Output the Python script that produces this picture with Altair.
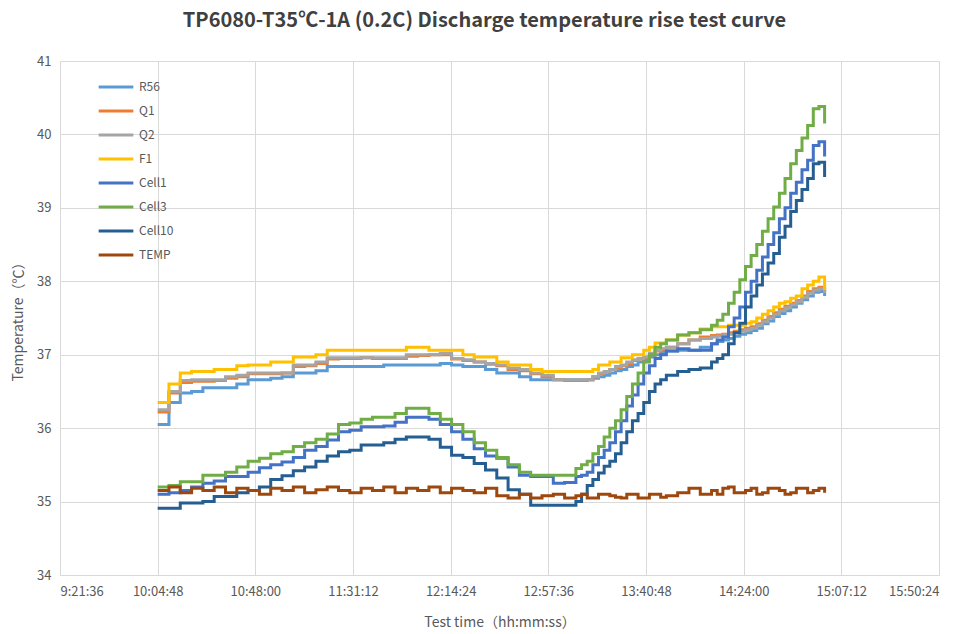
import altair as alt
import pandas as pd

# ---------------- data ----------------
times = [
    "10:04:48", "10:09:48", "10:14:48", "10:19:48", "10:24:48", "10:29:48", "10:34:48", "10:39:48", "10:44:48", "10:49:48",
    "10:54:48", "10:59:48", "11:04:48", "11:09:48", "11:14:48", "11:19:48", "11:24:48", "11:29:48", "11:34:48", "11:39:48",
    "11:44:48", "11:49:48", "11:54:48", "11:59:48", "12:04:48", "12:09:48", "12:14:48", "12:19:48", "12:24:48", "12:29:48",
    "12:34:48", "12:39:48", "12:44:48", "12:49:48", "12:54:48", "12:59:48", "13:04:48", "13:09:48", "13:14:48", "13:19:48",
    "13:24:48", "13:29:48", "13:34:48", "13:39:48", "13:44:48", "13:49:48", "13:54:48", "13:59:48", "14:04:48", "14:09:48",
    "14:14:48", "14:19:48", "14:24:48", "14:29:48", "14:34:48", "14:39:48", "14:44:48", "14:49:48", "14:54:48", "14:59:48",
]

r56 = [36.05, 36.35, 36.48, 36.5, 36.55, 36.55, 36.55, 36.6, 36.66, 36.66,
       36.68, 36.7, 36.75, 36.75, 36.78, 36.84, 36.84, 36.84, 36.84, 36.84,
       36.86, 36.86, 36.86, 36.86, 36.86, 36.88, 36.86, 36.84, 36.84, 36.8,
       36.75, 36.75, 36.7, 36.66, 36.66, 36.66, 36.66, 36.66, 36.66, 36.7,
       36.75, 36.8, 36.86, 36.93, 37.0, 37.05, 37.06, 37.06, 37.1, 37.15,
       37.2, 37.25, 37.3, 37.36, 37.46, 37.56, 37.65, 37.75, 37.85, 37.8]

q1 = [36.22, 36.48, 36.62, 36.64, 36.64, 36.65, 36.68, 36.7, 36.74, 36.74,
      36.74, 36.75, 36.84, 36.85, 36.88, 36.94, 36.95, 36.95, 36.96, 36.95,
      36.95, 36.95, 36.98, 36.99, 37.0, 37.0, 36.94, 36.92, 36.9, 36.87,
      36.85, 36.8, 36.78, 36.74, 36.7, 36.66, 36.65, 36.65, 36.66, 36.74,
      36.8, 36.85, 36.92, 36.96, 37.05, 37.1, 37.15, 37.2, 37.24, 37.26,
      37.28, 37.32, 37.36, 37.42, 37.52, 37.62, 37.7, 37.8, 37.9, 37.86]

q2 = [36.25, 36.5, 36.65, 36.66, 36.66, 36.66, 36.7, 36.72, 36.75, 36.75,
      36.75, 36.75, 36.86, 36.86, 36.9, 36.96, 36.96, 36.96, 36.96, 36.96,
      36.96, 36.96, 37.0, 37.0, 37.0, 37.02, 36.95, 36.93, 36.9, 36.88,
      36.86, 36.82, 36.8, 36.75, 36.72, 36.66, 36.66, 36.66, 36.66, 36.75,
      36.8, 36.86, 36.93, 36.97, 37.06, 37.1, 37.15, 37.2, 37.22, 37.24,
      37.27, 37.3, 37.34, 37.4, 37.5, 37.6, 37.68, 37.78, 37.88, 37.84]

f1 = [36.35, 36.6, 36.75, 36.77, 36.77, 36.8, 36.8, 36.85, 36.86, 36.86,
      36.9, 36.9, 36.97, 36.97, 37.0, 37.06, 37.06, 37.06, 37.06, 37.06,
      37.06, 37.06, 37.1, 37.1, 37.06, 37.06, 37.06, 37.0, 36.97, 36.97,
      36.9, 36.86, 36.86, 36.8, 36.77, 36.77, 36.77, 36.77, 36.77, 36.86,
      36.9, 36.96, 37.0, 37.06, 37.16, 37.2, 37.27, 37.3, 37.35, 37.38,
      37.38, 37.4, 37.43, 37.5, 37.6, 37.7, 37.77, 37.9, 38.0, 37.88]

cell1 = [35.1, 35.12, 35.15, 35.2, 35.25, 35.28, 35.34, 35.34, 35.4, 35.46,
         35.5, 35.54, 35.6, 35.7, 35.75, 35.84, 35.95, 35.97, 36.02, 36.02,
         36.03, 36.08, 36.15, 36.15, 36.12, 36.05, 35.95, 35.85, 35.72, 35.62,
         35.59, 35.47, 35.36, 35.34, 35.34, 35.25, 35.26, 35.34, 35.4, 35.6,
         35.8, 36.1, 36.45, 36.75, 36.95, 37.05, 37.08, 37.06, 37.06, 37.15,
         37.24, 37.5, 37.85, 38.15, 38.5, 38.85, 39.2, 39.52, 39.85, 39.7]

cell3 = [35.2, 35.22, 35.27, 35.27, 35.36, 35.36, 35.4, 35.47, 35.55, 35.59,
         35.65, 35.68, 35.75, 35.8, 35.85, 35.92, 36.05, 36.07, 36.12, 36.15,
         36.15, 36.2, 36.27, 36.27, 36.2, 36.12, 36.05, 35.95, 35.8, 35.7,
         35.6, 35.5, 35.4, 35.36, 35.36, 35.36, 35.36, 35.45, 35.55, 35.75,
         36.0, 36.25, 36.6, 36.9, 37.1, 37.2, 37.27, 37.3, 37.34, 37.4,
         37.55, 37.85, 38.2, 38.5, 38.85, 39.2, 39.6, 39.95, 40.35, 40.15]

cell10 = [34.91, 34.91, 34.98, 34.98, 35.0, 35.07, 35.07, 35.12, 35.15, 35.2,
          35.3, 35.35, 35.42, 35.47, 35.55, 35.62, 35.68, 35.7, 35.77, 35.77,
          35.8, 35.85, 35.88, 35.88, 35.85, 35.74, 35.63, 35.6, 35.52, 35.43,
          35.32, 35.16, 35.1, 34.95, 34.95, 34.95, 34.95, 35.0, 35.22, 35.39,
          35.55, 35.8, 36.1, 36.35, 36.6, 36.72, 36.77, 36.8, 36.82, 36.9,
          37.0, 37.3, 37.65, 37.95, 38.25, 38.6, 38.95, 39.25, 39.6, 39.42]

temp = [35.15, 35.2, 35.12, 35.18, 35.15, 35.2, 35.12, 35.18, 35.15, 35.1,
        35.18, 35.15, 35.2, 35.12, 35.16, 35.2, 35.15, 35.12, 35.18, 35.15,
        35.2, 35.12, 35.18, 35.15, 35.2, 35.12, 35.18, 35.15, 35.12, 35.18,
        35.08, 35.05, 35.1, 35.05, 35.08, 35.1, 35.05, 35.08, 35.05, 35.1,
        35.08, 35.05, 35.1, 35.05, 35.1, 35.08, 35.12, 35.18, 35.1, 35.15,
        35.18, 35.12, 35.15, 35.1, 35.18, 35.15, 35.12, 35.18, 35.15, 35.12]

# extra readings in the two fast-rising stretches
times_extra = ["13:12:18", "13:17:18", "13:22:18", "13:27:18", "13:32:18", "13:37:18", "13:42:18", "13:47:18",
               "14:12:18", "14:17:18", "14:22:18", "14:27:18", "14:32:18", "14:37:18", "14:42:18", "14:47:18",
               "14:52:18", "14:57:18"]
r56_extra = [36.66, 36.68, 36.72, 36.78, 36.84, 36.9, 36.97, 37.03,
             37.18, 37.22, 37.28, 37.33, 37.42, 37.52, 37.6, 37.7, 37.8, 37.86]
q1_extra = [36.65, 36.7, 36.76, 36.82, 36.88, 36.94, 37.0, 37.07,
            37.27, 37.3, 37.34, 37.38, 37.47, 37.57, 37.66, 37.74, 37.86, 37.92]
q2_extra = [36.66, 36.7, 36.77, 36.84, 36.9, 36.95, 37.02, 37.08,
            37.25, 37.28, 37.32, 37.36, 37.45, 37.55, 37.64, 37.72, 37.84, 37.9]
f1_extra = [36.77, 36.8, 36.86, 36.9, 36.96, 37.0, 37.1, 37.16,
            37.38, 37.4, 37.4, 37.45, 37.55, 37.65, 37.72, 37.8, 37.95, 38.06]
cell1_extra = [35.36, 35.5, 35.7, 35.95, 36.3, 36.6, 36.85, 37.0,
               37.2, 37.38, 37.65, 38.0, 38.33, 38.66, 39.0, 39.35, 39.65, 39.9]
cell3_extra = [35.5, 35.65, 35.88, 36.1, 36.43, 36.75, 37.0, 37.15,
               37.47, 37.7, 38.02, 38.35, 38.68, 39.01, 39.4, 39.78, 40.12, 40.38]
cell10_extra = [35.1, 35.3, 35.48, 35.65, 35.95, 36.2, 36.5, 36.66,
                36.95, 37.15, 37.43, 37.8, 38.1, 38.38, 38.75, 39.1, 39.4, 39.62]
temp_extra = [35.1, 35.05, 35.1, 35.06, 35.1, 35.05, 35.1, 35.06,
              35.1, 35.2, 35.12, 35.18, 35.12, 35.18, 35.1, 35.18, 35.12, 35.18]

series_names = ["R56", "Q1", "Q2", "F1", "Cell1", "Cell3", "Cell10", "TEMP"]
series_colors = ["#5B9BD5", "#ED7D31", "#A5A5A5", "#FFC000", "#4472C4", "#70AD47", "#255E91", "#9E480E"]
x_ticks = ["9:21:36", "10:04:48", "10:48:00", "11:31:12", "12:14:24",
           "12:57:36", "13:40:48", "14:24:00", "15:07:12", "15:50:24"]
y_ticks = [34, 35, 36, 37, 38, 39, 40, 41]

# ---------------- build table ----------------
main_vals = [r56, q1, q2, f1, cell1, cell3, cell10, temp]
extra_vals = [r56_extra, q1_extra, q2_extra, f1_extra, cell1_extra, cell3_extra, cell10_extra, temp_extra]
rows = []
for k, name in enumerate(series_names):
    pts = list(zip(times, main_vals[k])) + list(zip(times_extra, extra_vals[k]))
    pts.sort(key=lambda p: p[0])
    for t, v in pts:
        rows.append({"time": "2024-01-01T" + t, "series": name, "value": v})
df = pd.DataFrame(rows)


def dt(s):
    h, m, sec = [int(p) for p in s.split(":")]
    return alt.DateTime(year=2024, month=1, date=1, hours=h, minutes=m, seconds=sec)


tick_dts = [dt(s) for s in x_ticks]

FONT = "Noto Sans CJK SC"
GREY = "#595959"

chart = alt.Chart(df).mark_line(strokeWidth=3, interpolate="step-after").encode(
    x=alt.X(
        "time:T",
        scale=alt.Scale(domain=[tick_dts[0], tick_dts[-1]]),
        axis=alt.Axis(
            values=tick_dts, format="%-H:%M:%S", title="Test time（hh:mm:ss）",
            grid=True, gridColor="#D9D9D9", domainColor="#D9D9D9", ticks=False,
            labelFont=FONT, labelFontSize=13, labelColor=GREY, labelPadding=10,
            titleFont=FONT, titleFontSize=14, titleFontWeight="normal", titleColor=GREY,
            titlePadding=17,
        ),
    ),
    y=alt.Y(
        "value:Q",
        scale=alt.Scale(domain=[34, 41], nice=False, zero=False),
        axis=alt.Axis(
            values=y_ticks, title="Temperature（℃）", grid=True, gridColor="#D9D9D9",
            domain=False, ticks=False, labelFont=FONT, labelFontSize=13, labelColor=GREY,
            labelPadding=9, titleFont=FONT, titleFontSize=14, titleFontWeight="normal",
            titleColor=GREY, titlePadding=11,
        ),
    ),
    color=alt.Color(
        "series:N",
        scale=alt.Scale(domain=series_names, range=series_colors),
        legend=alt.Legend(
            title=None, orient="none", legendX=37, legendY=14, symbolType="stroke",
            symbolStrokeWidth=3, symbolSize=1200, clipHeight=24, rowPadding=0,
            labelFont=FONT, labelFontSize=12, labelColor=GREY, labelOffset=4,
        ),
    ),
).properties(
    width=879,
    height=514,
    title=alt.TitleParams(
        "TP6080-T35℃-1A (0.2C) Discharge temperature rise test curve",
        font=FONT, fontSize=20, fontWeight="bold", color="#404040",
        anchor="middle", dx=-15, offset=24,
    ),
).configure(
    background="white",
    padding={"left": 60, "top": 61, "right": 30, "bottom": 59},
    autosize=alt.AutoSizeParams(type="none"),
).configure_view(stroke=None)

chart.save("out.html", embed_options={"renderer": "svg", "actions": False})
